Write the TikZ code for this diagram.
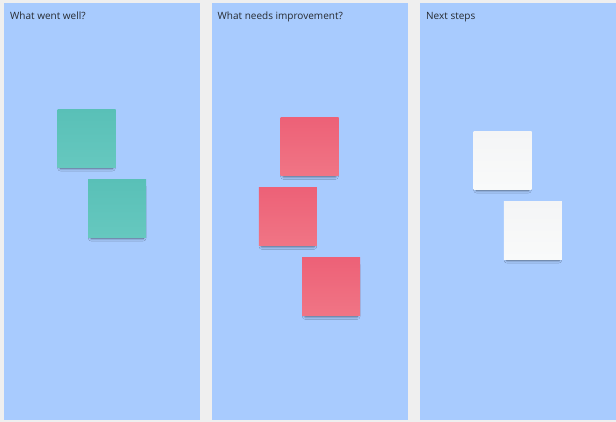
\documentclass[tikz,border=0pt]{standalone}
\usepackage{fontspec}
\setmainfont{Open Sans}
\usetikzlibrary{shadows.blur}
\definecolor{boardgray}{HTML}{EFEFEF}
\definecolor{laneblue}{HTML}{A8CBFE}
\definecolor{headtext}{HTML}{262A30}
\definecolor{tealtop}{HTML}{59C0B7}
\definecolor{tealbot}{HTML}{66C8BF}
\definecolor{rosetop}{HTML}{ED6177}
\definecolor{rosebot}{HTML}{F07585}
\definecolor{papertop}{HTML}{F4F5F6}
\definecolor{paperbot}{HTML}{F9FAFA}

\begin{document}
\begin{tikzpicture}[x=1pt,y=-1pt,
    lane/.style={fill=laneblue, anchor=north west, inner sep=0pt, minimum width=196pt, minimum height=417pt},
    heading/.style={anchor=base west, inner sep=0pt, text=headtext, font=\fontsize{10}{12}\selectfont},
    sticky/.style={anchor=north west, inner sep=0pt, minimum width=58pt, minimum height=58pt,
        blur shadow={shadow xshift=0pt, shadow yshift=-4.5pt, shadow scale=0.9, shadow opacity=55, shadow blur radius=3pt}},
    teal/.style={sticky, top color=tealtop, bottom color=tealbot},
    rose/.style={sticky, top color=rosetop, bottom color=rosebot},
    paper/.style={sticky, top color=papertop, bottom color=paperbot}]
        \fill[boardgray] (0,0) rectangle (616,422);
        \useasboundingbox (0,0) rectangle (616,422);
        % lanes
        \node[lane] (well) at (3.3,3) {};
        \node[lane] (improve) at (211.3,3) {};
        \node[lane] (next) at (419.3,3) {};
        \node[heading] (wellhead) at (10,19.3) {What went well?};
        \node[heading] (improvehead) at (217.5,19.3) {What needs improvement?};
        \node[heading] (nexthead) at (426,19.3) {Next steps};
        % notes
        \node[teal] (well1) at (57.3,109) {};
        \node[teal] (well2) at (88,179) {};
        \node[rose] (improve1) at (280.3,117.3) {};
        \node[rose] (improve2) at (258.7,187.3) {};
        \node[rose] (improve3) at (302,257.3) {};
        \node[paper] (next1) at (473.3,131) {};
        \node[paper] (next2) at (503.7,201) {};
    \end{tikzpicture}
\end{document}
